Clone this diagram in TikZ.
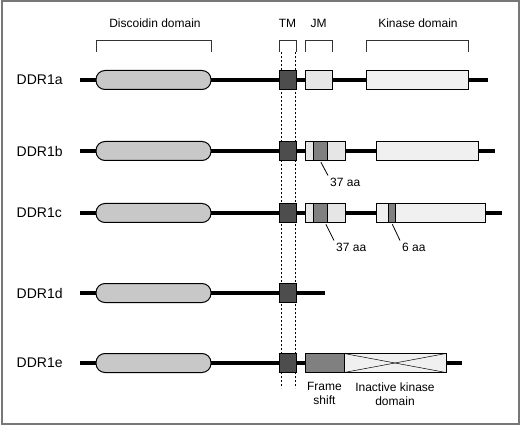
\documentclass[tikz,border=0pt]{standalone}
\usepackage{fontspec}
\setmainfont{Liberation Sans}
\usepackage{tikz}
\usetikzlibrary{positioning, calc}
\usepackage{xcolor}

\definecolor{DDRBlack}{HTML}{000000}
\definecolor{DDRDisc}{HTML}{C8C8C8}
\definecolor{DDRTM}{HTML}{4D4D4D}
\definecolor{DDRLight}{HTML}{E6E6E6}
\definecolor{DDRPale}{HTML}{F0F0F0}
\definecolor{DDRInsert}{HTML}{808080}
\definecolor{DDRFrame}{HTML}{777777}

\tikzset{
    % Plain labels
    every node/.style={font=\fontsize{12}{14}\selectfont},
    % Isoform name on the left
    isoform/.style={
        anchor=west,
        inner sep=0pt,
        font=\fontsize{14}{16}\selectfont
    },
    % Protein backbone
    backbone/.style={
        line width=3.6pt,
        color=DDRBlack
    },
    % Any domain box
    domainbox/.style={
        rectangle,
        draw=DDRBlack,
        line width=1pt,
        inner sep=0pt,
        outer sep=0pt,
        minimum height=19pt
    },
    % Discoidin domain
    discoidin/.style={
        domainbox,
        fill=DDRDisc,
        minimum width=115pt,
        rounded corners=9pt
    },
    % Transmembrane box
    tmbox/.style={
        domainbox,
        fill=DDRTM,
        minimum width=17pt
    },
    % Juxtamembrane box
    jmbox/.style={
        domainbox,
        fill=DDRLight
    },
    % Kinase domain
    kinase/.style={
        domainbox,
        fill=DDRPale,
        minimum width=102pt
    },
    % Inserted stretch
    insert/.style={
        domainbox,
        fill=DDRInsert
    },
    % Domain bracket
    bracket/.style={
        line width=0.8pt,
        color=DDRBlack!80
    },
    % Dashed TM guide
    guide/.style={
        line width=0.6pt,
        dash pattern=on 2pt off 2pt
    },
    % Leader to a label
    leader/.style={
        line width=0.8pt,
        shorten <=2pt
    },
    % Text under a box
    note/.style={
        align=center,
        inner sep=0pt
    }
}

\begin{document}
\begin{tikzpicture}[x=1pt, y=-1pt]
        \useasboundingbox (0,0) rectangle (520,425);
        \draw[DDRFrame, line width=2pt] (1.5,1.5) rectangle (518.5,423.5);

        % TM guides
        \draw[guide] (281,52) -- (281,388);
        \draw[guide] (295,52) -- (295,388);

        % Backbones
        \draw[backbone] (80,80) -- (488,80);
        \draw[backbone] (80,151) -- (495,151);
        \draw[backbone] (80,213) -- (502,213);
        \draw[backbone] (80,293) -- (325,293);
        \draw[backbone] (80,363) -- (462,363);

        % DDR1a
        \node[isoform] (namea) at (16.5,80) {DDR1a};
        \node (disca) [discoidin] at (153.5,80) {};
        \node (tma) [tmbox] at (287.5,80) {};
        \node (jma) [jmbox, right=9pt of tma, minimum width=27pt] {};
        \node (kina) [kinase, right=34pt of jma] {};

        % DDR1b
        \node[isoform] (nameb) at (16.5,151) {DDR1b};
        \node (discb) [discoidin] at (153.5,151) {};
        \node (tmb) [tmbox] at (287.5,151) {};
        \node (jmb) [jmbox, right=9pt of tmb, minimum width=40pt] {};
        \node (insb) [insert, anchor=west, minimum width=14pt] at ([xshift=8pt]jmb.west) {};
        \node (kinb) [kinase, right=31pt of jmb] {};

        % DDR1c
        \node[isoform] (namec) at (16.5,213) {DDR1c};
        \node (discc) [discoidin] at (153.5,213) {};
        \node (tmc) [tmbox] at (287.5,213) {};
        \node (jmc) [jmbox, right=9pt of tmc, minimum width=40pt] {};
        \node (insc) [insert, anchor=west, minimum width=14pt] at ([xshift=8pt]jmc.west) {};
        \node (kinc) [kinase, right=31pt of jmc, minimum width=109pt] {};
        \node (ins6) [insert, anchor=west, minimum width=7pt] at ([xshift=12pt]kinc.west) {};

        % DDR1d
        \node[isoform] (named) at (16.5,293) {DDR1d};
        \node (discd) [discoidin] at (153.5,293) {};
        \node (tmd) [tmbox] at (287.5,293) {};

        % DDR1e
        \node[isoform] (namee) at (16.5,363) {DDR1e};
        \node (disce) [discoidin] at (153.5,363) {};
        \node (tme) [tmbox] at (287.5,363) {};
        \node (fse) [insert, right=9pt of tme, minimum width=39pt] {};
        \node (inact) [kinase, right=0pt of fse] {};
        \draw[line width=0.5pt] (inact.north west) -- (inact.south east);
        \draw[line width=0.5pt] (inact.south west) -- (inact.north east);

        % Brackets and headers
        \coordinate (bktop) at (0,40);
        \coordinate (bkbot) at (0,52);
        \draw[bracket] (disca.west |- bkbot) -- (disca.west |- bktop) -- (disca.east |- bktop) -- (disca.east |- bkbot);
        \draw[bracket] (tma.west |- bkbot) -- (tma.west |- bktop) -- (tma.east |- bktop) -- (tma.east |- bkbot);
        \draw[bracket] (jma.west |- bkbot) -- (jma.west |- bktop) -- (jma.east |- bktop) -- (jma.east |- bkbot);
        \draw[bracket] (kina.west |- bkbot) -- (kina.west |- bktop) -- (kina.east |- bktop) -- (kina.east |- bkbot);
        \node (hdisc) [anchor=base] at ([xshift=1.5pt]disca |- 0,27.5) {Discoidin domain};
        \node (htm) [anchor=base] at (tma |- 0,27.5) {TM};
        \node (hjm) [anchor=base] at (jma |- 0,27.5) {JM};
        \node (hkin) [anchor=base] at ([xshift=1pt]kina |- 0,27.5) {Kinase domain};

        % Insert labels
        \node (l37b) [inner sep=2pt, below right=15pt and 1pt of insb] {37 aa};
        \node (l37c) [inner sep=2pt, below right=18pt and 7pt of insc] {37 aa};
        \node (l6) [inner sep=2pt, below right=18pt and 5pt of ins6] {6 aa};
        \draw[leader] (insb.south) -- (l37b.north west);
        \draw[leader] ([xshift=5pt]insc.south) -- (l37c.north west);
        \draw[leader] (ins6.south) -- (l6.north west);

        % Labels under DDR1e
        \node (nfs) [note, below=10pt of fse] {Frame\\shift};
        \node (ninact) [note, below=10pt of inact] {Inactive kinase\\domain};
    \end{tikzpicture}
\end{document}
